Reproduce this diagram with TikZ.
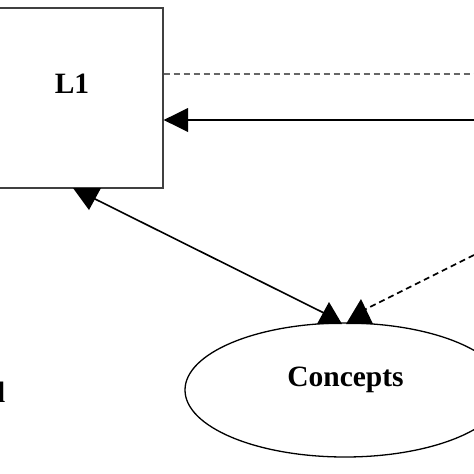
\documentclass[tikz,border=0pt]{standalone}
\usepackage{fontspec}
\setmainfont{Liberation Serif}
\usetikzlibrary{shapes.geometric}
\begin{document}
\begin{tikzpicture}[x=1pt,y=-1pt,
  lbl/.style={font=\fontsize{29.5}{32}\selectfont\bfseries, inner sep=0pt},
  conn/.style={line width=1.6pt, draw=black},
  dashconn/.style={line width=1.6pt, draw=black, dash pattern=on 6pt off 4pt},
  tri/.style={fill=black, draw=none}]
\useasboundingbox (0,0) rectangle (474,474);
% L1 box
\node[draw=black!75, line width=1.3pt, rectangle, minimum width=200pt, minimum height=180pt, inner sep=0pt] (L1) at (63,98) {};
\node[lbl, anchor=base] (L1t) at (72,93) {L1};
% Concepts ellipse
\node[draw, line width=1.3pt, ellipse, minimum width=320pt, minimum height=134pt, inner sep=0pt] (C) at (345,390) {};
\node[lbl, anchor=base] (Ct) at (345.5,386) {Concepts};
% partial label at left edge
\node[lbl, anchor=base west] (cut) at (-3,402) {l};
% free ends at right edge
\coordinate (rA) at (474,74);
\coordinate (rB) at (474,120);
\coordinate (rC) at (474,255);
\coordinate (aL1) at (89,196);
\coordinate (aC1) at (326,314);
\coordinate (aC2) at (364,310);
% connectors
\draw[draw=black!60, line width=1.4pt, dash pattern=on 6pt off 4pt] (L1.east |- rA) -- (rA);
\draw[conn] (rB) -- (188,120);
\draw[conn] (aL1) -- (aC1);
\draw[dashconn] (rC) -- (aC2);
% arrowheads
\fill[tri] (L1.east |- rB) -- (188,108) -- (188,132) -- cycle;
\fill[tri] (73,188) -- (101,188) -- (89,210) -- cycle;
\fill[tri] (317,324) -- (342,324) -- (329,302) -- cycle;
\fill[tri] (346,324) -- (373,324) -- (361,299) -- cycle;
\end{tikzpicture}
\end{document}
